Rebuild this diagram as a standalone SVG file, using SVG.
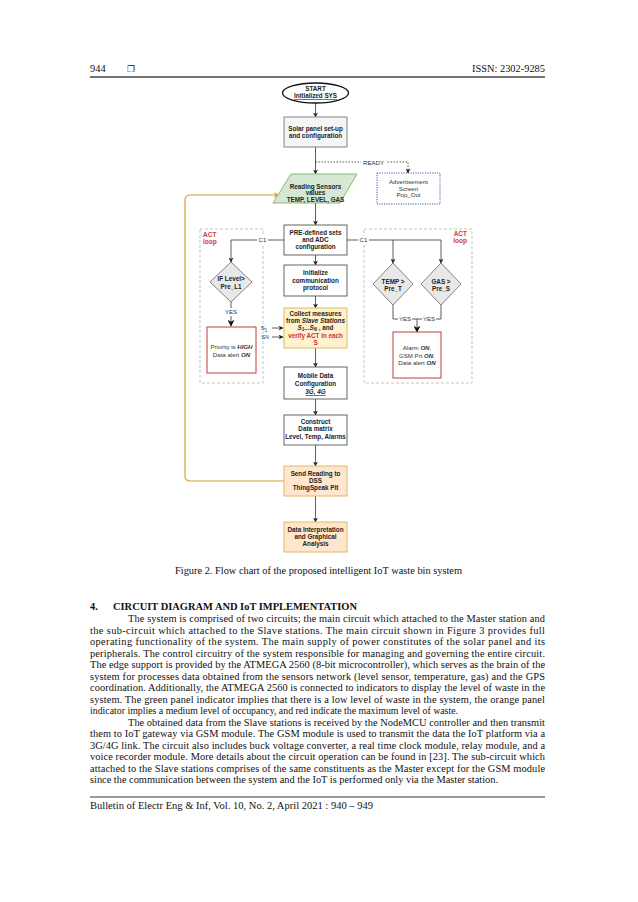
<svg xmlns="http://www.w3.org/2000/svg" width="638" height="902" viewBox="0 0 638 902">
<defs>
<style>
.n{font-family:"Liberation Sans",Arial,sans-serif;font-size:6.3px;font-weight:bold;fill:#222;text-anchor:middle}
.nr{font-family:"Liberation Sans",Arial,sans-serif;font-size:6.1px;font-weight:normal;fill:#333;text-anchor:middle}
.act{font-family:"Liberation Sans",Arial,sans-serif;font-size:6.5px;font-weight:bold;fill:#d03a3a}
.p{font-family:"Liberation Serif","Times New Roman",serif;font-size:10.4px;fill:#111}
.pb{font-family:"Liberation Serif","Times New Roman",serif;font-size:10.4px;font-weight:bold;fill:#111}
.box{fill:#fff;stroke:#555;stroke-width:0.9}
.gbox{fill:#f5f5f5;stroke:#777;stroke-width:0.9}
.dia{fill:#e8e8e8;stroke:#777;stroke-width:0.9}
.red{fill:#fff;stroke:#c0504d;stroke-width:1.1}
.yel{fill:#fff2cc;stroke:#d6b656;stroke-width:0.9}
.org{fill:#ffe6cc;stroke:#dcb460;stroke-width:0.9}
.grp{fill:none;stroke:#bdbdbd;stroke-width:0.9;stroke-dasharray:3,2}
.c{fill:none;stroke:#333;stroke-width:0.8}
.lbg{fill:#fff}
</style>
<marker id="ah" viewBox="0 0 10 10" refX="9" refY="5" markerWidth="5" markerHeight="5" markerUnits="userSpaceOnUse" orient="auto"><path d="M0,0 L10,5 L0,10 L3,5 Z" fill="#222"/></marker>
<marker id="ahb" viewBox="0 0 10 10" refX="9" refY="5" markerWidth="7" markerHeight="7" markerUnits="userSpaceOnUse" orient="auto"><path d="M0,0 L10,5 L0,10 L3,5 Z" fill="#111"/></marker>
<marker id="ahg" viewBox="0 0 10 10" refX="9" refY="5" markerWidth="6" markerHeight="6" markerUnits="userSpaceOnUse" orient="auto"><path d="M0,0 L10,5 L0,10 L3,5 Z" fill="#d6a62e"/></marker>
</defs>
<rect width="638" height="902" fill="#fff"/>

<g id="header">
<text class="p" x="90" y="72">944</text>
<text x="127" y="72" style="font-family:'DejaVu Sans',sans-serif;font-size:9px;fill:#111">❐</text>
<text class="p" x="545" y="72" text-anchor="end">ISSN: 2302-9285</text>
<line x1="90" y1="77" x2="545" y2="77" stroke="#444" stroke-width="1.4"/>
</g>

<g id="groups">
<rect class="grp" x="200" y="229" width="63" height="154"/>
<text class="act" x="203" y="236.5">ACT</text>
<text class="act" x="203" y="243.5">loop</text>
<rect class="grp" x="364" y="229" width="108" height="154"/>
<text class="act" x="467" y="235.5" text-anchor="end">ACT</text>
<text class="act" x="467" y="242.5" text-anchor="end">loop</text>
</g>

<g id="connectors">
<path class="c" d="M315.5,103 V117" marker-end="url(#ah)"/>
<path class="c" d="M315.5,147 V174" marker-end="url(#ah)"/>
<path d="M315.5,162 H408 V173" fill="none" stroke="#333" stroke-width="0.8" stroke-dasharray="1.5,1.5" marker-end="url(#ah)"/>
<rect class="lbg" x="361" y="158" width="25" height="8"/>
<text class="nr" x="373.5" y="164.5">READY</text>
<path class="c" d="M315.5,203 V225" marker-end="url(#ah)"/>
<path class="c" d="M315.5,255 V265" marker-end="url(#ah)"/>
<path class="c" d="M315.5,296 V308" marker-end="url(#ah)"/>
<path class="c" d="M315.5,348 V367" marker-end="url(#ah)"/>
<path class="c" d="M315.5,399 V415" marker-end="url(#ah)"/>
<path class="c" d="M315.5,445 V466" marker-end="url(#ah)"/>
<path class="c" d="M315.5,496 V522" marker-end="url(#ah)"/>
<path d="M284,481 H190 Q185,481 185,476 V200 Q185,195 190,195 H279" fill="none" stroke="#d6a62e" stroke-width="1.2" marker-end="url(#ahg)"/>
<path class="c" d="M284,240 H231 V262" marker-end="url(#ah)"/>
<rect class="lbg" x="257" y="236" width="11" height="8"/>
<text class="nr" x="262.5" y="242.2">C1</text>
<path class="c" d="M231,302 V326" stroke-width="1" marker-end="url(#ahb)"/>
<rect class="lbg" x="224" y="308" width="14" height="8"/>
<text class="nr" x="231" y="314.2">YES</text>
<path class="c" d="M347,240 H441 V263" marker-end="url(#ah)"/>
<path class="c" d="M393,240 V263" marker-end="url(#ah)"/>
<rect class="lbg" x="358" y="236" width="11" height="8"/>
<text class="nr" x="363.5" y="242.2">C1</text>
<path class="c" d="M393,305 V319 H441 V305" stroke-width="1"/>
<path class="c" d="M417,319 V332" stroke-width="1" marker-end="url(#ahb)"/>
<rect class="lbg" x="398" y="315.5" width="14" height="7"/>
<text class="nr" x="405" y="321.2">YES</text>
<rect class="lbg" x="422" y="315.5" width="14" height="7"/>
<text class="nr" x="429" y="321.2">YES</text>
<path class="c" d="M272,328 H283" marker-end="url(#ah)"/>
<text class="nr" x="264" y="330" text-anchor="middle">S<tspan font-size="4.5" dy="1.5">1</tspan></text>
<path class="c" d="M272,337 H283" marker-end="url(#ah)"/>
<text class="nr" x="265" y="339">S<tspan font-size="4.5">N</tspan></text>
</g>

<g id="start">
<ellipse cx="315.5" cy="93" rx="33" ry="10" fill="#fff" stroke="#111" stroke-width="1.3"/>
<text class="n" x="315.5" y="90.5">START</text>
<text class="n" x="315.5" y="98.3" text-decoration="underline">Initialized SYS</text>
</g>
<g id="solar">
<rect class="gbox" x="284" y="117" width="63" height="30"/>
<text class="n" x="315.5" y="130.5">Solar panel set-up</text>
<text class="n" x="315.5" y="138">and configuration</text>
</g>
<g id="reading">
<polygon points="291,174 357,174 340,203 273,203" fill="#d5e8d4" stroke="#82b366" stroke-width="0.9"/>
<text class="n" x="315.5" y="188.5">Reading Sensors</text>
<text class="n" x="315.5" y="195.3">values</text>
<text class="n" x="315.5" y="202">TEMP, LEVEL, GAS</text>
</g>
<g id="advert">
<rect x="377" y="173" width="63" height="31" fill="#fff" stroke="#4040a0" stroke-width="0.9" stroke-dasharray="1.2,1.2"/>
<text class="nr" x="408.5" y="184">Advertisement</text>
<text class="nr" x="408.5" y="190.5">Screen</text>
<text class="nr" x="408.5" y="197">Pop_Out</text>
</g>
<g id="predefined">
<rect class="box" x="284" y="225" width="63" height="30"/>
<text class="n" x="315.5" y="235">PRE-defined sets</text>
<text class="n" x="315.5" y="242">and ADC</text>
<text class="n" x="315.5" y="249">configuration</text>
</g>
<g id="initialize">
<rect class="box" x="284" y="265" width="63" height="31"/>
<text class="n" x="315.5" y="275">Initialize</text>
<text class="n" x="315.5" y="282.5">communication</text>
<text class="n" x="315.5" y="290">protocol</text>
</g>
<g id="collect">
<rect class="yel" x="284" y="308" width="63" height="40"/>
<text class="n" x="315.5" y="316">Collect measures</text>
<text class="n" x="315.5" y="323">from <tspan font-style="italic">Slave Stations</tspan></text>
<text class="n" x="315.5" y="330" font-style="italic">S<tspan font-size="4.5" dy="1.3">1</tspan><tspan dy="-1.3">...S</tspan><tspan font-size="4.5" dy="1.3">N</tspan><tspan dy="-1.3" font-style="normal"> , and</tspan></text>
<text class="n" x="315.5" y="338" fill="#d03030" style="fill:#d03030">verify ACT in each</text>
<text class="n" x="315.5" y="345" style="fill:#d03030">S</text>
</g>
<g id="mobile">
<rect class="box" x="284" y="367" width="63" height="32"/>
<text class="n" x="315.5" y="378">Mobile Data</text>
<text class="n" x="315.5" y="386">Configuration</text>
<text class="n" x="315.5" y="394" font-style="italic" text-decoration="underline">3G, 4G</text>
</g>
<g id="construct">
<rect class="box" x="284" y="415" width="63" height="30"/>
<text class="n" x="315.5" y="424">Construct</text>
<text class="n" x="315.5" y="431.3">Data matrix</text>
<text class="n" x="315.5" y="439">Level, Temp, Alarms</text>
</g>
<g id="send">
<rect class="org" x="284" y="466" width="63" height="30"/>
<text class="n" x="315.5" y="475.5">Send Reading to</text>
<text class="n" x="315.5" y="482.5">DSS</text>
<text class="n" x="315.5" y="489.5">ThingSpeak Plt</text>
</g>
<g id="analysis">
<rect class="org" x="284" y="522" width="63" height="30"/>
<text class="n" x="315.5" y="532">Data Interpretation</text>
<text class="n" x="315.5" y="539">and Graphical</text>
<text class="n" x="315.5" y="546">Analysis</text>
</g>
<g id="levelcheck">
<polygon class="dia" points="231,262 252,282 231,302 210,282"/>
<text class="n" x="231" y="281">IF Level&gt;</text>
<text class="n" x="231" y="288.5">Pre_L1</text>
</g>
<g id="priority">
<rect class="red" x="207" y="327" width="49" height="46"/>
<text class="nr" x="231.5" y="349">Priority is <tspan font-weight="bold" font-style="italic">HIGH</tspan></text>
<text class="nr" x="231.5" y="356.5">Data alert <tspan font-weight="bold" font-style="italic">ON</tspan></text>
</g>
<g id="tempcheck">
<polygon class="dia" points="393,263 413,284 393,305 373,284"/>
<text class="n" x="393" y="284">TEMP &gt;</text>
<text class="n" x="393" y="291">Pre_T</text>
</g>
<g id="gascheck">
<polygon class="dia" points="441,263 461,284 441,305 421,284"/>
<text class="n" x="441" y="284">GAS &gt;</text>
<text class="n" x="441" y="291">Pre_S</text>
</g>
<g id="alarm">
<rect class="red" x="393" y="332" width="48" height="46"/>
<text class="nr" x="417" y="350">Alarm <tspan font-weight="bold" font-style="italic">ON</tspan>,</text>
<text class="nr" x="417" y="357.5">GSM Prt <tspan font-weight="bold" font-style="italic">ON</tspan>,</text>
<text class="nr" x="417" y="365">Data alert <tspan font-weight="bold" font-style="italic">ON</tspan></text>
</g>

<g id="page-text">
<text class="p" x="175" y="574" textLength="287" lengthAdjust="spacingAndGlyphs">Figure 2. Flow chart of the proposed intelligent IoT waste bin system</text>
<text class="pb" x="90" y="610">4.</text>
<text class="pb" x="113" y="610" textLength="244" lengthAdjust="spacingAndGlyphs">CIRCUIT DIAGRAM AND IoT IMPLEMENTATION</text>
<text class="p" x="128" y="622" textLength="417" lengthAdjust="spacing">The system is comprised of two circuits; the main circuit which attached to the Master station and</text>
<text class="p" x="90" y="633.5" textLength="455" lengthAdjust="spacing">the sub-circuit which attached to the Slave stations. The main circuit shown in Figure 3 provides full</text>
<text class="p" x="90" y="645" textLength="455" lengthAdjust="spacing">operating functionality of the system. The main supply of power constitutes of the solar panel and its</text>
<text class="p" x="90" y="656.5" textLength="455" lengthAdjust="spacing">peripherals. The control circuitry of the system responsible for managing and governing the entire circuit.</text>
<text class="p" x="90" y="668" textLength="455" lengthAdjust="spacing">The edge support is provided by the ATMEGA 2560 (8-bit microcontroller), which serves as the brain of the</text>
<text class="p" x="90" y="679.5" textLength="455" lengthAdjust="spacing">system for processes data obtained from the sensors network (level sensor, temperature, gas) and the GPS</text>
<text class="p" x="90" y="691" textLength="455" lengthAdjust="spacing">coordination. Additionally, the ATMEGA 2560 is connected to indicators to display the level of waste in the</text>
<text class="p" x="90" y="702.5" textLength="455" lengthAdjust="spacing">system. The green panel indicator implies that there is a low level of waste in the system, the orange panel</text>
<text class="p" x="90" y="714" textLength="368" lengthAdjust="spacingAndGlyphs">indicator implies a medium level of occupancy, and red indicate the maximum level of waste.</text>
<text class="p" x="128" y="725.5" textLength="417" lengthAdjust="spacing">The obtained data from the Slave stations is received by the NodeMCU controller and then transmit</text>
<text class="p" x="90" y="737" textLength="455" lengthAdjust="spacing">them to IoT gateway via GSM module. The GSM module is used to transmit the data the IoT platform via a</text>
<text class="p" x="90" y="748.5" textLength="455" lengthAdjust="spacing">3G/4G link. The circuit also includes buck voltage converter, a real time clock module, relay module, and a</text>
<text class="p" x="90" y="760" textLength="455" lengthAdjust="spacing">voice recorder module. More details about the circuit operation can be found in [23]. The sub-circuit which</text>
<text class="p" x="90" y="771.5" textLength="455" lengthAdjust="spacing">attached to the Slave stations comprises of the same constituents as the Master except for the GSM module</text>
<text class="p" x="90" y="783" textLength="408" lengthAdjust="spacingAndGlyphs">since the communication between the system and the IoT is performed only via the Master station.</text>
</g>

<g id="footer">
<line x1="90" y1="797" x2="545" y2="797" stroke="#333" stroke-width="1"/>
<text class="p" x="90" y="809" textLength="283" lengthAdjust="spacingAndGlyphs">Bulletin of Electr Eng &amp; Inf, Vol. 10, No. 2, April 2021 :  940 – 949</text>
</g>
</svg>
